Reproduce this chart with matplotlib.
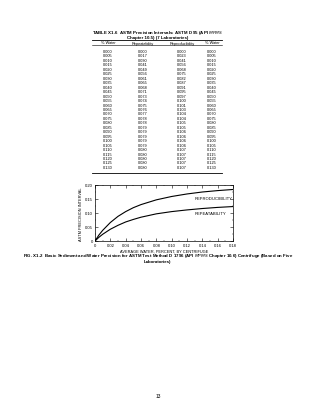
import matplotlib
matplotlib.use("Agg")
import matplotlib.pyplot as plt
from matplotlib.lines import Line2D
from matplotlib.ticker import MultipleLocator

# table X1.6 values
pct_water = ["0.000", "0.005", "0.010", "0.015", "0.020", "0.025", "0.030", "0.035", "0.040",
             "0.045", "0.050", "0.055", "0.060", "0.065", "0.070", "0.075", "0.080", "0.085",
             "0.090", "0.095", "0.100", "0.105", "0.110", "0.115", "0.120", "0.125", "0.130"]
repeatability = ["0.000", "0.017", "0.030", "0.041", "0.049", "0.056", "0.061", "0.065", "0.068",
                 "0.071", "0.073", "0.074", "0.075", "0.076", "0.077", "0.078", "0.078", "0.079",
                 "0.079", "0.079", "0.079", "0.079", "0.080", "0.080", "0.080", "0.080", "0.080"]
reproducibility = ["0.000", "0.023", "0.041", "0.056", "0.068", "0.075", "0.082", "0.087", "0.091",
                   "0.095", "0.097", "0.100", "0.101", "0.103", "0.104", "0.104", "0.105", "0.105",
                   "0.106", "0.106", "0.106", "0.106", "0.107", "0.107", "0.107", "0.107", "0.107"]
headers = ["% Water", "Repeatability", "Reproducibility", "% Water"]

# figure X1.2 curves
avg_water = [0, 0.005, 0.01, 0.02, 0.03, 0.04, 0.05, 0.06, 0.08, 0.10, 0.12, 0.14, 0.16, 0.18]
repro_curve = [0, 0.021, 0.038, 0.066, 0.088, 0.105, 0.119, 0.130, 0.147, 0.159, 0.168, 0.175, 0.180, 0.184]
repeat_curve = [0, 0.013, 0.024, 0.042, 0.056, 0.068, 0.077, 0.085, 0.097, 0.105, 0.111, 0.116, 0.120, 0.123]

W, H = 320, 414
fig = plt.figure(figsize=(W / 100, H / 100), dpi=100)
plt.rcParams['font.family'] = ['Liberation Sans', 'DejaVu Sans']


def fx(px):
    return px / W


def fy(py):
    return 1 - py / H


# table title
fig.text(fx(158), fy(33), "TABLE X1.6  ASTM Precision Intervals: ASTM D 95 (API $\\it{MPMS}$",
         ha='center', va='center', fontsize=3.2, fontweight='bold')
fig.text(fx(158), fy(38), "Chapter 10.5) (7 Laboratories)",
         ha='center', va='center', fontsize=3.2, fontweight='bold')

# rules
for y, lw in [(41, 0.6), (46, 0.4), (174, 0.6)]:
    fig.add_artist(Line2D([fx(92), fx(222)], [fy(y), fy(y)], color='black', lw=lw))

col_x = [108, 143, 182, 212]
for x, h in zip(col_x, headers):
    fig.text(fx(x), fy(43.5), h, ha='center', va='center', fontsize=2.8)

row_y0, row_dy = 52, 4.46
for i in range(len(pct_water)):
    y = fy(row_y0 + i * row_dy)
    for x, v in zip(col_x, [pct_water[i], repeatability[i], reproducibility[i], pct_water[i]]):
        fig.text(fx(x), y, v, ha='center', va='center', fontsize=2.8)

# chart
ax = fig.add_axes([fx(95), fy(242), fx(233) - fx(95), fy(186) - fy(242)])
ax.plot(avg_water, repro_curve, color='black', lw=0.8)
ax.plot(avg_water, repeat_curve, color='black', lw=0.8)
ax.set_xlim(0, 0.18)
ax.set_ylim(0, 0.20)
ax.set_xticks([0, 0.02, 0.04, 0.06, 0.08, 0.10, 0.12, 0.14, 0.16, 0.18])
ax.set_xticklabels(["0", "0.02", "0.04", "0.06", "0.08", "0.10", "0.12", "0.14", "0.16", "0.18"])
ax.set_yticks([0, 0.05, 0.10, 0.15, 0.20])
ax.set_yticklabels(["0", "0.05", "0.10", "0.15", "0.20"])
ax.xaxis.set_minor_locator(MultipleLocator(0.01))
ax.yaxis.set_minor_locator(MultipleLocator(0.025))
ax.tick_params(labelsize=3, length=2, width=0.4, pad=1.5, direction='in', top=True, right=True)
ax.tick_params(which='minor', length=1, width=0.3, direction='in', top=True, right=True)
for s in ax.spines.values():
    s.set_linewidth(0.5)
ax.text(0.130, 0.154, "REPRODUCIBILITY", fontsize=3, va='center')
ax.text(0.130, 0.099, "REPEATABILITY", fontsize=3, va='center')
ax.set_xlabel("AVERAGE WATER, PERCENT, BY CENTRIFUGE", fontsize=2.8, labelpad=1)
ax.set_ylabel("ASTM PRECISION INTERVAL", fontsize=2.8, labelpad=1.5)

# caption
fig.text(fx(158), fy(256), "FIG. X1.2  Basic Sediment and Water Precision for ASTM Test Method D 1796 "
         "(API $\\it{MPMS}$ Chapter 10.6) Centrifuge (Based on Five",
         ha='center', va='center', fontsize=3.2, fontweight='bold')
fig.text(fx(158), fy(261.5), "Laboratories)", ha='center', va='center', fontsize=3.2, fontweight='bold')

fig.text(fx(158), fy(397), "13", ha='center', va='center', fontsize=3.5)

fig.savefig("out.png", dpi=100, facecolor='white')
